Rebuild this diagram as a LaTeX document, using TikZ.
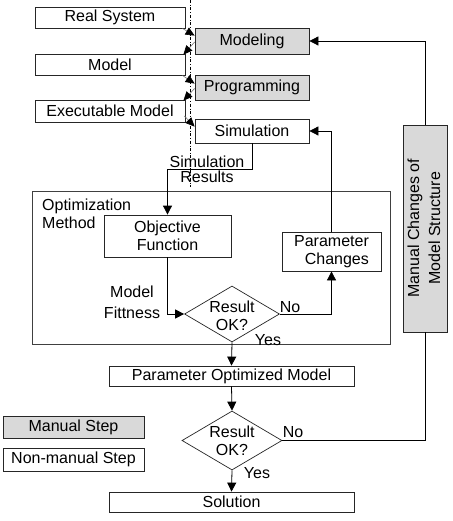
\documentclass[tikz,border=0pt]{standalone}
\usepackage{fontspec}
\setmainfont{Liberation Sans}
\usetikzlibrary{shapes.geometric,arrows.meta,calc}
\begin{document}
\begin{tikzpicture}[x=1pt,y=-1pt,
  font=\fontsize{16}{18}\selectfont,
  every node/.style={inner sep=0pt},
  stepbox/.style={draw=black!85, line width=0.8pt, fill=white, minimum width=#1},
  manualbox/.style={stepbox=#1, fill=black!15},
  decision/.style={diamond, draw=black!85, line width=0.7pt, fill=white, minimum width=#1},
  arr/.style={line width=0.8pt, -{Triangle[length=9pt,width=9pt]}},
  plain/.style={line width=0.8pt},
  diag/.style={draw=black!55, line width=0.6pt, -{Triangle[length=9pt,width=8pt,black]}},
  lbl/.style={align=center}
]
\useasboundingbox (0,0) rectangle (452,521);
\fill[white] (0,0) rectangle (452,521);

% dash-dot separator
\coordinate (dtop) at (190,0);
\coordinate (dbot) at (190,187);
\draw[dash dot, line width=0.6pt] (dtop) -- (dbot);

% optimization method frame
\node[draw=black!75, line width=0.8pt, minimum width=358, minimum height=153] (opt) at (211,267.5) {};
\node[anchor=west, align=left] (optlbl) at (42,213.5) {Optimization\\Method};

% left column
\node[stepbox=150, minimum height=21] (real) at (110,17.5) {Real System};
\node[stepbox=150, minimum height=21] (model) at (110,64.5) {Model};
\node[stepbox=150, minimum height=22] (exec) at (110,111) {Executable Model};

% middle column
\node[manualbox=114, minimum height=26] (modeling) at (252,41) {Modeling};
\node[manualbox=114, minimum height=25] (prog) at (252,87.5) {Programming};
\node[stepbox=114, minimum height=24] (sim) at (252,131) {Simulation};

\node[lbl, font=\fontsize{16}{15}\selectfont] (simres) at (207,169.5) {Simulation\\Results};

\node[stepbox=127, minimum height=42, align=center] (obj) at (167.5,236) {Objective\\Function};
\node[stepbox=99, minimum height=39, align=right] (param) at (331.5,251.5) {Parameter\\Changes};

\node[decision=95, minimum height=56] (d1) at (232,314) {};
\node[lbl] (d1t) at (232,316) {Result\\OK?};
\node[lbl, font=\fontsize{16}{21}\selectfont] (fit) at (132,302.5) {Model\\Fittness};
\node (no1) at (290,307) {No};
\node (yes1) at (268,340) {Yes};

\node[stepbox=245, minimum height=20] (pom) at (231.5,376) {Parameter Optimized Model};

\node[decision=100, minimum height=59] (d2) at (232,440.5) {};
\node[lbl] (d2t) at (232,440.5) {Result\\OK?};
\node (no2) at (293,432) {No};
\node (yes2) at (257,473) {Yes};

\node[stepbox=245, minimum height=20] (sol) at (231.5,502) {Solution};

% legend
\node[manualbox=141, minimum height=22] (leg1) at (73.5,427) {Manual Step};
\node[stepbox=141, minimum height=23] (leg2) at (73.5,459.5) {Non-manual Step};

% manual changes of model structure
\node[manualbox=44, minimum height=207] (mcms) at (425.5,228.5)
  {\rotatebox{90}{\fontsize{16}{20}\selectfont\begin{tabular}{@{}c@{}}Manual Changes of\\[1pt]Model Structure\end{tabular}}};

% diagonal small arrows
\draw[diag] ($(real.south east)+(-3,0)$) -- ($(modeling.north west)+(0,8)$);
\draw[diag] ($(modeling.west)+(0,1)$) -- ($(model.north east)+(-2,1)$);
\draw[diag] ($(model.south east)+(-3,0)$) -- ($(prog.north west)+(0,9)$);
\draw[diag] ($(prog.west)+(0,1)$) -- ($(exec.north east)+(-2,1)$);
\draw[diag] ($(exec.east)+(-1,5)$) -- ($(sim.north west)+(0,8)$);

% main flow
\draw[arr] (sim.south) -- ++(0,26) -| (obj.north);
\draw[arr] (obj.south) |- (d1.west);
\draw[arr] (d1.east) -| (param.south);
\draw[arr] (param.north) |- (sim.east);
\draw[arr] (d1.south) -- (pom.north);
\draw[arr] (pom.south) -- (d2.north);
\draw[arr] (d2.south) -- (sol.north);
\draw[plain] (d2.east) -| (mcms.south);
\draw[arr] (mcms.north) |- (modeling.east);
\end{tikzpicture}
\end{document}
